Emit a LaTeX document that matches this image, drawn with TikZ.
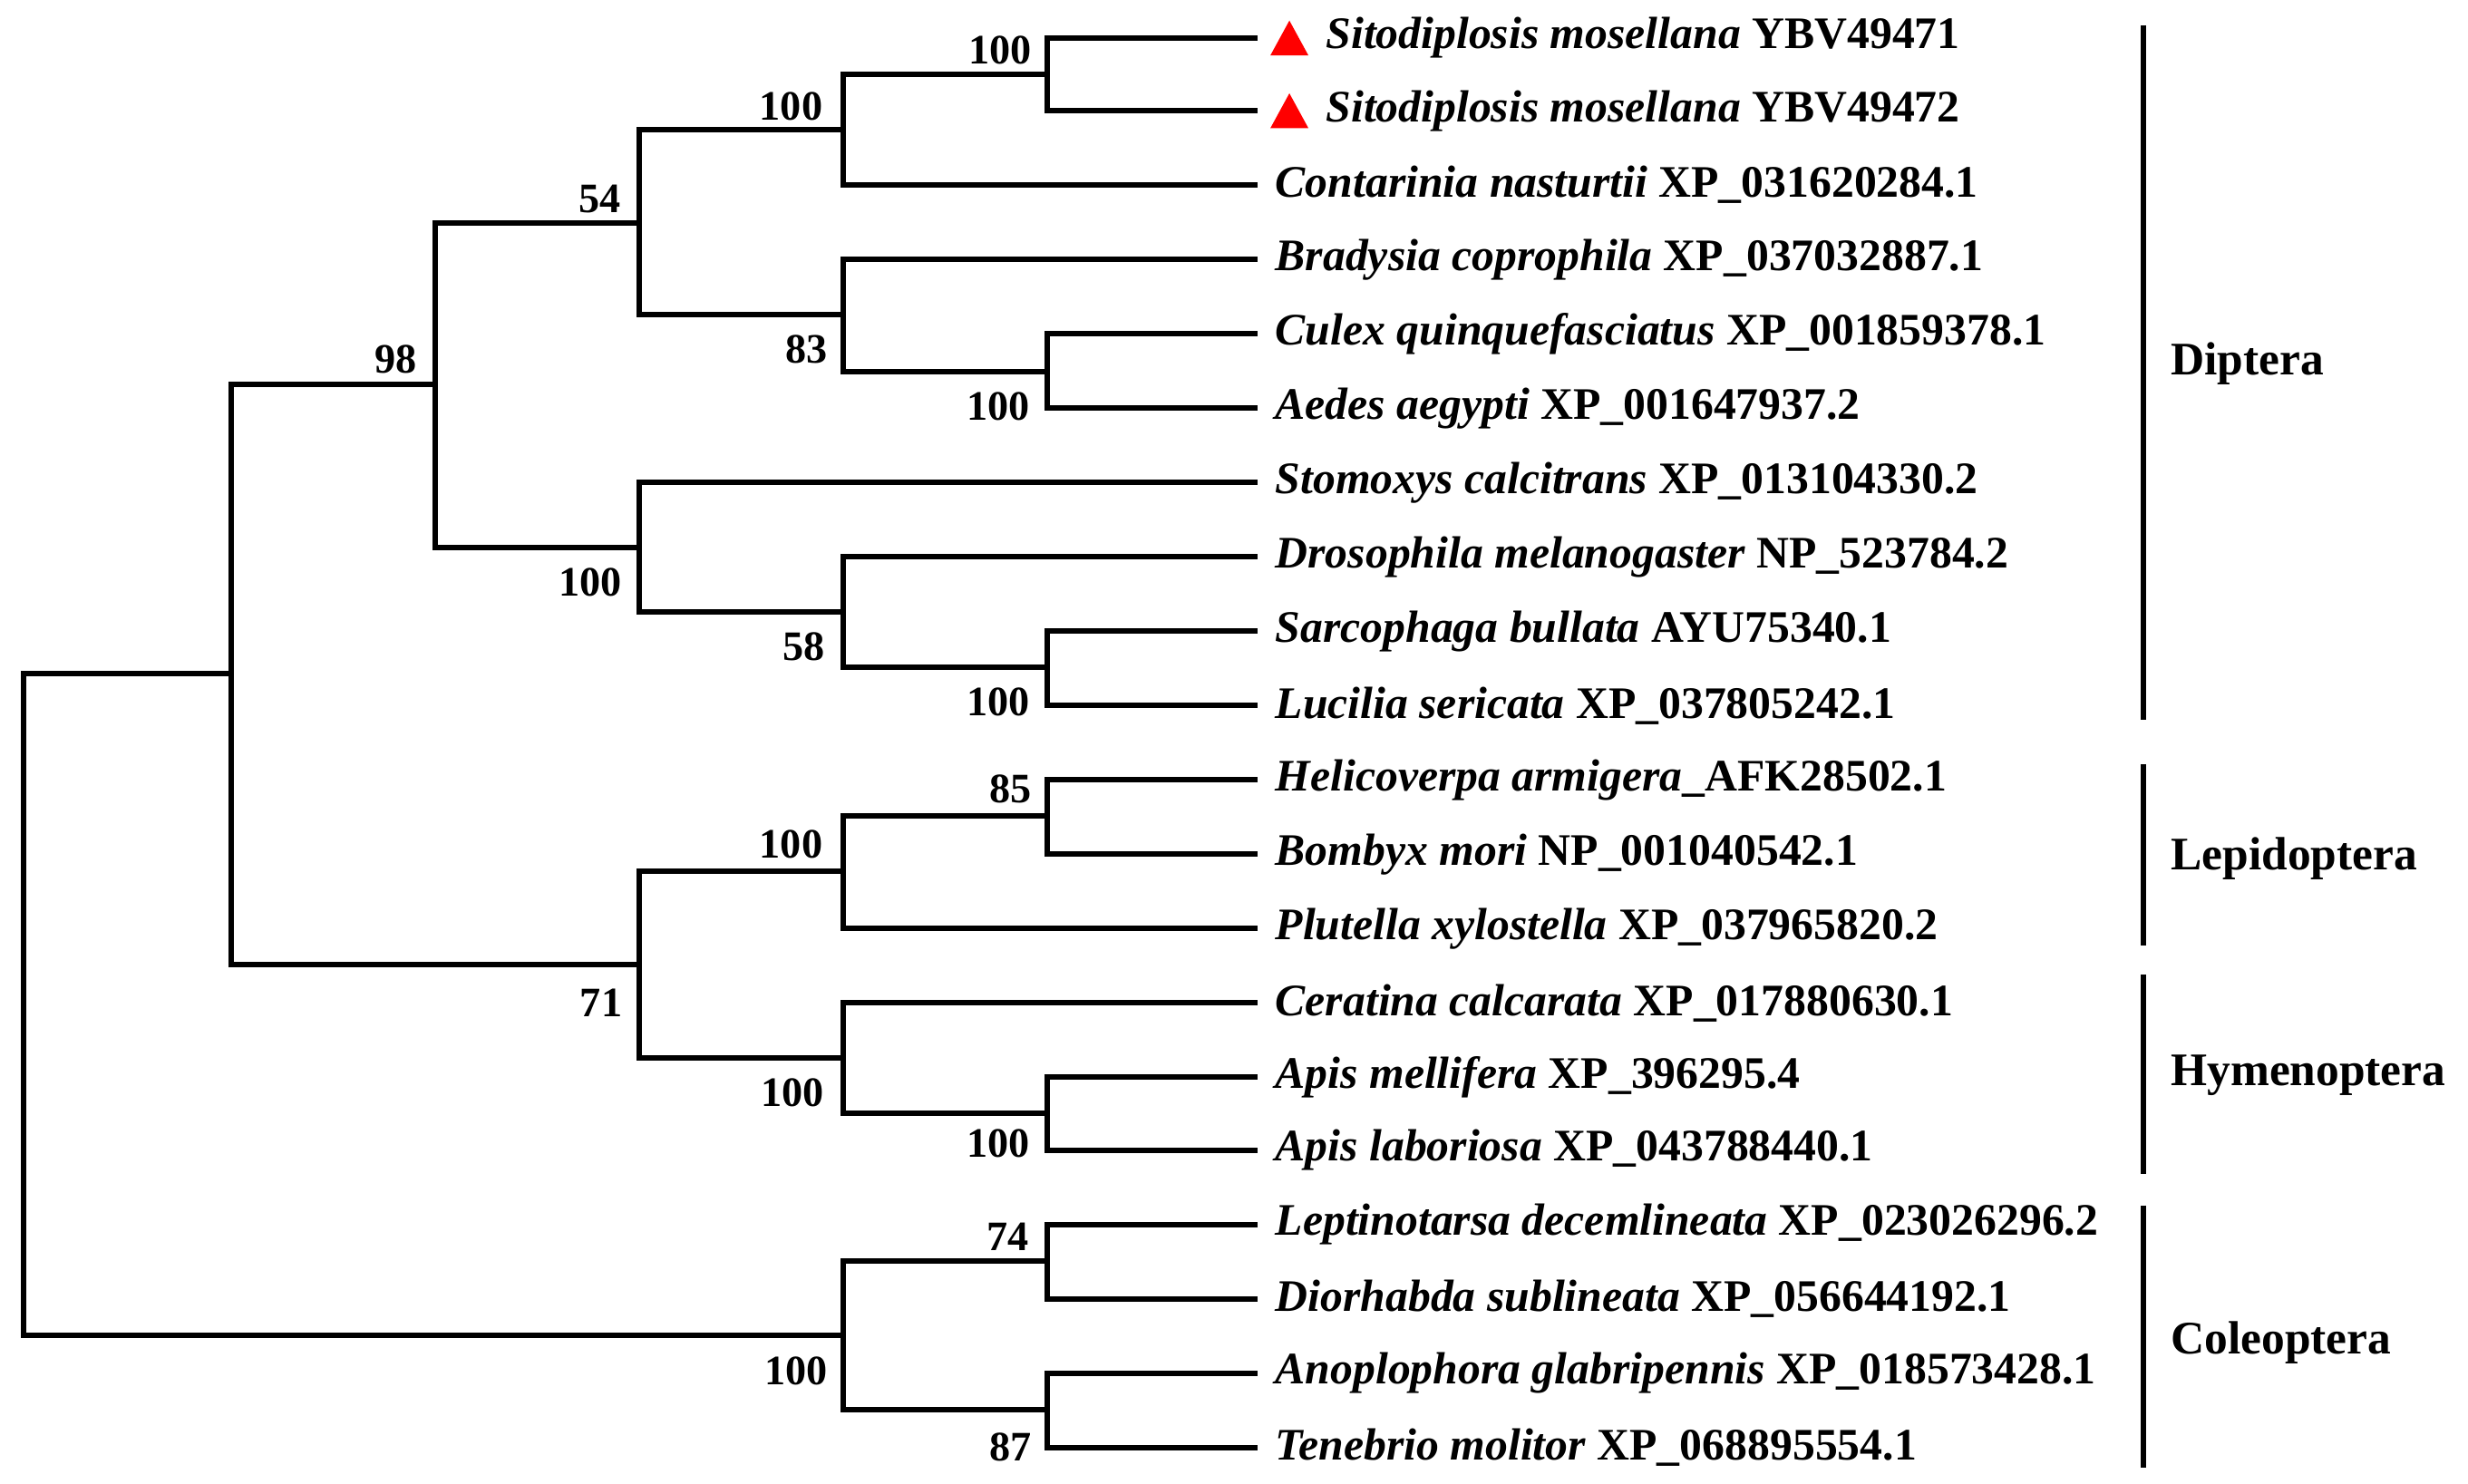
\documentclass[tikz,border=0pt]{standalone}
\usepackage{fontspec}
\setmainfont{Liberation Serif}
\begin{document}
\begin{tikzpicture}[x=1pt,y=-1pt,
  br/.style={line width=3.4pt,line cap=rect},
  lf/.style={anchor=west,font=\fontsize{28.5}{30}\selectfont\bfseries,inner sep=0pt},
  bs/.style={font=\fontsize{26.5}{28}\selectfont\bfseries,inner sep=0pt},
  grp/.style={anchor=west,font=\fontsize{29.5}{31}\selectfont\bfseries,inner sep=0pt}]
\useasboundingbox (0,0) rectangle (1560,938);
\foreach \y/\n/\t in {
 24/l1/{\textit{Sitodiplosis mosellana} YBV49471},
 70/l2/{\textit{Sitodiplosis mosellana} YBV49472}}
 {\node[lf] (\n) at (838,\y) {\t};}
\foreach \y/\n/\t in {
 117/l3/{\textit{Contarinia nasturtii} XP\_031620284.1},
 164/l4/{\textit{Bradysia coprophila} XP\_037032887.1},
 211/l5/{\textit{Culex quinquefasciatus} XP\_001859378.1},
 258/l6/{\textit{Aedes aegypti} XP\_001647937.2},
 305/l7/{\textit{Stomoxys calcitrans} XP\_013104330.2},
 352/l8/{\textit{Drosophila melanogaster} NP\_523784.2},
 399/l9/{\textit{Sarcophaga bullata} AYU75340.1},
 446/l10/{\textit{Lucilia sericata} XP\_037805242.1},
 493/l11/{\textit{Helicoverpa armigera}\_AFK28502.1},
 540/l12/{\textit{Bombyx mori} NP\_001040542.1},
 587/l13/{\textit{Plutella xylostella} XP\_037965820.2},
 634/l14/{\textit{Ceratina calcarata} XP\_017880630.1},
 681/l15/{\textit{Apis mellifera} XP\_396295.4},
 727/l16/{\textit{Apis laboriosa} XP\_043788440.1},
 774/l17/{\textit{Leptinotarsa decemlineata} XP\_023026296.2},
 821/l18/{\textit{Diorhabda sublineata} XP\_056644192.1},
 868/l19/{\textit{Anoplophora glabripennis} XP\_018573428.1},
 915/l20/{\textit{Tenebrio molitor} XP\_068895554.1}}
 {\node[lf] (\n) at (806,\y) {\t};}
\foreach \y in {24,70} \fill[red] (803,\y+11) -- (827,\y+11) -- (815,\y-11) -- cycle;
\draw[br] (793,24) -| (662,70) -- (793,70);
\draw[br] (662,47) -- (533,47) |- (793,117);
\draw[br] (793,211) -| (662,258) -- (793,258);
\draw[br] (793,164) -| (533,235) -- (662,235);
\draw[br] (533,82) -| (404,199) -- (533,199);
\draw[br] (793,399) -| (662,446) -- (793,446);
\draw[br] (793,352) -| (533,422) -- (662,422);
\draw[br] (793,305) -| (404,387) -- (533,387);
\draw[br] (404,141) -| (275,346) -- (404,346);
\draw[br] (793,493) -| (662,540) -- (793,540);
\draw[br] (662,516) -| (533,587) -- (793,587);
\draw[br] (793,681) -| (662,727) -- (793,727);
\draw[br] (793,634) -| (533,704) -- (662,704);
\draw[br] (533,551) -| (404,669) -- (533,669);
\draw[br] (275,243) -| (146,610) -- (404,610);
\draw[br] (793,774) -| (662,821) -- (793,821);
\draw[br] (793,868) -| (662,915) -- (793,915);
\draw[br] (662,797) -| (533,891) -- (662,891);
\draw[br] (146,426) -| (15,844) -- (533,844);
\node[bs] at (632,32) {100};
\node[bs] at (500,67) {100};
\node[bs] at (379,126) {54};
\node[bs] at (510,221) {83};
\node[bs] at (631,257) {100};
\node[bs] at (250,227) {98};
\node[bs] at (373,368) {100};
\node[bs] at (508,409) {58};
\node[bs] at (631,444) {100};
\node[bs] at (639,499) {85};
\node[bs] at (500,534) {100};
\node[bs] at (380,634) {71};
\node[bs] at (501,691) {100};
\node[bs] at (631,723) {100};
\node[bs] at (637,782) {74};
\node[bs] at (503,867) {100};
\node[bs] at (639,915) {87};
\draw[line width=3.4pt] (1355,16) -- (1355,455);
\draw[line width=3.4pt] (1355,483) -- (1355,598);
\draw[line width=3.4pt] (1355,616) -- (1355,742);
\draw[line width=3.4pt] (1355,762) -- (1355,928);
\node[grp] (g1) at (1372,230) {Diptera};
\node[grp] (g2) at (1372,543) {Lepidoptera};
\node[grp] (g3) at (1372,680) {Hymenoptera};
\node[grp] (g4) at (1372,849) {Coleoptera};
\end{tikzpicture}
\end{document}
